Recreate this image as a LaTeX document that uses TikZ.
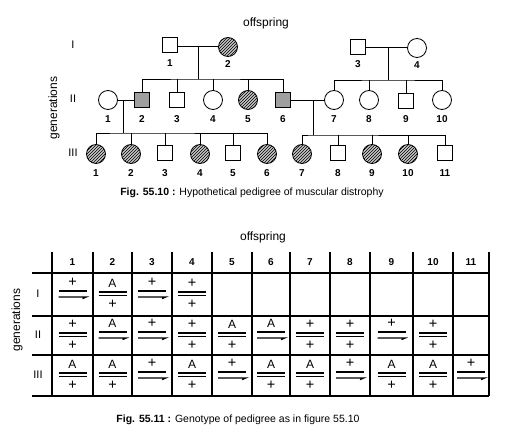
\documentclass[tikz,border=0pt]{standalone}
\usepackage{fontspec}
\setmainfont{Liberation Sans}
\usetikzlibrary{patterns}
\newcommand{\bigplussign}{{\fontsize{14.5}{14.5}\selectfont +}}
\begin{document}
\begin{tikzpicture}[x=1pt,y=-1pt,
  ln/.style={line width=0.8pt},
  male/.style={draw,rectangle,line width=0.8pt,minimum size=15pt,inner sep=0pt,fill=white},
  female/.style={draw,circle,line width=0.8pt,minimum size=19pt,inner sep=0pt,fill=white},
  affm/.style={fill=gray!75},
  afff/.style={preaction={fill=gray!45},pattern=north east lines},
  num/.style={font=\fontsize{10}{10}\selectfont\bfseries,inner sep=0pt},
  gen/.style={font=\fontsize{11}{11}\selectfont,inner sep=0pt},
  ttl/.style={font=\fontsize{12}{12}\selectfont,inner sep=0pt},
  figcap/.style={font=\fontsize{10.5}{10.5}\selectfont,inner sep=0pt},
  tgrid/.style={line width=1.2pt},
  al/.style={font=\fontsize{12}{12}\selectfont,inner sep=0pt},
  gl/.style={line width=1.1pt},
  pics/gx/.style 2 args={code={
    \node[al] (-t) at (0,-11) {#1};
    \draw[gl] (-14,-2.5) -- (14,-2.5);
    \draw[gl] (-14,1) -- (14,1);
    \node[al] (-b) at (0,10) {#2};
  }},
  pics/gy/.style={code={
    \node[al] (-t) at (0,-12.5) {#1};
    \draw[gl] (-14,-3.5) -- (14,-3.5);
    \draw[gl] (-14,2.5) -- (14,2.5) -- (10,4.2);
  }}
]
\useasboundingbox (0,0) rectangle (511,433);

% ---------------- pedigree ----------------
\node[ttl] (off1) at (266,23) {offspring};
\node[gen] (g1) at (73,45) {I};
\node[gen] (g2) at (73,99) {II};
\node[gen] (g3) at (73,153) {III};
\node[ttl,rotate=90] (gens1) at (54,108) {generations};

% generation I
\node[male] (Ia) at (170,45) {};
\node[female,afff] (Ib) at (228,47) {};
\node[male] (Ic) at (358,47) {};
\node[female] (Id) at (417,48) {};
\node[num] (lIa) at (170,63) {1};
\node[num] (lIb) at (228,64) {2};
\node[num] (lIc) at (358,64) {3};
\node[num] (lId) at (417,65) {4};

% generation II
\node[female] (II1) at (108,100) {};
\node[male,affm] (II2) at (142,100) {};
\node[male] (II3) at (177,100) {};
\node[female] (II4) at (213,100) {};
\node[female,afff] (II5) at (248,100) {};
\node[male,affm] (II6) at (283,100) {};
\node[female] (II7) at (334,100) {};
\node[female] (II8) at (369,100) {};
\node[male] (II9) at (406,101) {};
\node[female] (II10) at (442,100) {};
\foreach \n/\x in {1/108,2/142,3/177,4/213,5/248,6/283,7/334,8/369,9/406,10/442}
  \node[num] (lII\n) at (\x,119) {\n};

% generation III
\node[female,afff] (III1) at (96,154) {};
\node[female,afff] (III2) at (131,154) {};
\node[male] (III3) at (165,153) {};
\node[female,afff] (III4) at (200,154) {};
\node[male] (III5) at (233,153) {};
\node[female,afff] (III6) at (267,154) {};
\node[female,afff] (III7) at (302,154) {};
\node[male] (III8) at (338,153) {};
\node[female,afff] (III9) at (372,154) {};
\node[female,afff] (III10) at (408,154) {};
\node[male] (III11) at (445,153) {};
\foreach \n/\x in {1/96,2/131,3/165,4/200,5/233,6/267,7/302,8/338,9/372,10/408,11/445}
  \node[num] (lIII\n) at (\x,173) {\n};

% junctions
\coordinate (m1) at (198,46);
\coordinate (b1) at (198,79);
\coordinate (m2) at (388,47.5);
\coordinate (b2) at (388,80);
\coordinate (m3) at (123,100);
\coordinate (b3) at (123,133);
\coordinate (m4) at (313,100);
\coordinate (b4) at (313,135);

% marriages and descents
\draw[ln] (Ia.east |- m1) -- (Ib.west |- m1);
\draw[ln] (m1) -- (b1);
\draw[ln] (Ic.east |- m2) -- (Id.west |- m2);
\draw[ln] (m2) -- (b2);
\draw[ln] (II1) -- (II2);
\draw[ln] (m3) -- (b3);
\draw[ln] (II6) -- (II7);
\draw[ln] (m4) -- (b4);

% sibships
\draw[ln] (II2.north) |- (b1) -| (II6.north);
\foreach \k in {II3,II4,II5} \draw[ln] (\k.north) -- (\k.north |- b1);
\draw[ln] (II7.north) |- (b2) -| (II10.north);
\foreach \k in {II8,II9} \draw[ln] (\k.north) -- (\k.north |- b2);
\draw[ln] (III1.north) |- (b3) -| (III6.north);
\foreach \k in {III2,III3,III4,III5} \draw[ln] (\k.north) -- (\k.north |- b3);
\draw[ln] (III7.north) |- (b4) -| (III11.north);
\foreach \k in {III8,III9,III10} \draw[ln] (\k.north) -- (\k.north |- b4);

\node[figcap] (cap1) at (252,193) {\textbf{Fig. 55.10 :} Hypothetical pedigree of muscular distrophy};

% ---------------- genotype table ----------------
\node[ttl] (off2) at (263,237) {offspring};
\node[ttl,rotate=90] (gens2) at (17,320) {generations};
\foreach \x in {52,93,132,172,212,252,290,330,370,413,453,489}
  \draw[tgrid] (\x,252) -- (\x,396);
\foreach \y in {273,316,355,396}
  \draw[tgrid] (32,\y) -- (489,\y);
\foreach \n/\x in {1/72.5,2/112.5,3/152,4/192,5/232,6/271,7/310,8/350,9/391.5,10/433,11/471}
  \node[num] (h\n) at (\x,262) {\n};
\node[gen] (r1) at (38,294) {I};
\node[gen] (r2) at (38,335) {II};
\node[gen] (r3) at (38,375) {III};

% row I
\pic (a1) at (72.5,294.5) {gy=\bigplussign};
\pic (a2) at (112.5,294.5) {gx={A}{\bigplussign}};
\pic (a3) at (152,294.5) {gy=\bigplussign};
\pic (a4) at (192,294.5) {gx={\bigplussign}{\bigplussign}};
% row II
\pic (b1c) at (72.5,335.5) {gx={\bigplussign}{\bigplussign}};
\pic (b2c) at (112.5,335.5) {gy=A};
\pic (b3c) at (152,335.5) {gy=\bigplussign};
\pic (b4c) at (192,335.5) {gx={\bigplussign}{\bigplussign}};
\pic (b5c) at (232,335.5) {gx={A}{\bigplussign}};
\pic (b6c) at (271,335.5) {gy=A};
\pic (b7c) at (310,335.5) {gx={\bigplussign}{\bigplussign}};
\pic (b8c) at (350,335.5) {gx={\bigplussign}{\bigplussign}};
\pic (b9c) at (391.5,335.5) {gy=\bigplussign};
\pic (b10c) at (433,335.5) {gx={\bigplussign}{\bigplussign}};
% row III
\pic (c1) at (72.5,375.5) {gx={A}{\bigplussign}};
\pic (c2) at (112.5,375.5) {gx={A}{\bigplussign}};
\pic (c3) at (152,375.5) {gy=\bigplussign};
\pic (c4) at (192,375.5) {gx={A}{\bigplussign}};
\pic (c5) at (232,375.5) {gy=\bigplussign};
\pic (c6) at (271,375.5) {gx={A}{\bigplussign}};
\pic (c7) at (310,375.5) {gx={A}{\bigplussign}};
\pic (c8) at (350,375.5) {gy=\bigplussign};
\pic (c9) at (391.5,375.5) {gx={A}{\bigplussign}};
\pic (c10) at (433,375.5) {gx={A}{\bigplussign}};
\pic (c11) at (471,375.5) {gy=\bigplussign};

\node[figcap] (cap2) at (238,420) {\textbf{Fig. 55.11 :} Genotype of pedigree as in figure 55.10};
\end{tikzpicture}
\end{document}
